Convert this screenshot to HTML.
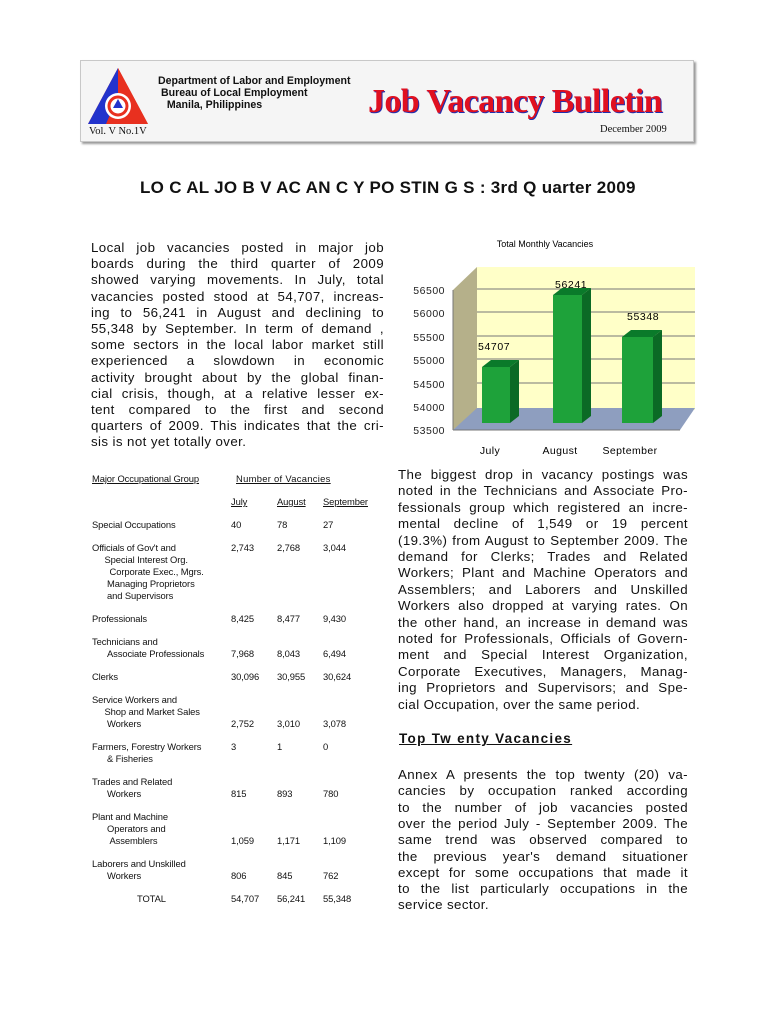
<!DOCTYPE html>
<html><head><meta charset="utf-8"><style>
body{margin:0;width:768px;height:1024px;background:#fff;position:relative;overflow:hidden;font-family:"Liberation Sans",sans-serif;color:#111}
.a{position:absolute;white-space:nowrap}
.L{position:absolute;font-size:13.3px;line-height:16.3px;height:16.3px;text-align:justify;text-align-last:justify;letter-spacing:0.4px;white-space:normal;overflow:hidden}
.N{text-align-last:left}
.t{position:absolute;font-size:9.4px;line-height:12px;white-space:nowrap;letter-spacing:-0.1px}
</style></head><body>
<!-- header -->
<div class="a" style="left:80px;top:60px;width:612px;height:80px;background:#f5f5f5;border:1px solid #c8c8c8;box-shadow:2px 2px 2px #999"></div>
<svg class="a" style="left:86px;top:66px" width="66" height="62">
<polygon points="32,2 2,58 62,58" fill="#e8301f"/>
<polygon points="32,2 2,58 20,58 32,30" fill="#2233cc"/>
<polygon points="32,2 32,30 44,52 62,58" fill="#e8301f"/>
<circle cx="32" cy="40" r="13" fill="#fff"/>
<circle cx="32" cy="40" r="9" fill="none" stroke="#e8301f" stroke-width="3"/>
<polygon points="32,33 27,42 37,42" fill="#2233cc"/>
</svg>
<div class="a" style="left:158px;top:75px;font-size:10.6px;font-weight:bold;line-height:12px">Department of Labor and Employment<br>&nbsp;Bureau of Local Employment<br>&nbsp;&nbsp;&nbsp;Manila, Philippines</div>
<div class="a" style="left:368px;top:83px;font-family:'Liberation Serif',serif;font-size:34px;font-weight:bold;color:#e01020;letter-spacing:-0.6px;text-shadow:1px 1px 0 #2030b0">Job Vacancy Bulletin</div>
<div class="a" style="left:89px;top:126px;font-family:'Liberation Serif',serif;font-size:10.5px">Vol. V No.1V</div>
<div class="a" style="left:600px;top:124px;font-family:'Liberation Serif',serif;font-size:10.5px">December 2009</div>
<!-- title -->
<div class="a" style="left:140px;top:178px;font-size:17px;font-weight:bold;letter-spacing:0.3px">LO C AL JO B V AC AN C Y  PO STIN G S : 3rd Q uarter 2009</div>
<!-- left paragraph -->
<div class="L" style="left:91px;top:240px;width:293px">Local job vacancies posted in major job</div>
<div class="L" style="left:91px;top:256.2px;width:293px">boards during the third quarter of 2009</div>
<div class="L" style="left:91px;top:272.4px;width:293px">showed varying movements. In July, total</div>
<div class="L" style="left:91px;top:288.6px;width:293px">vacancies posted stood at 54,707, increas-</div>
<div class="L" style="left:91px;top:304.8px;width:293px">ing to 56,241 in August and declining to</div>
<div class="L" style="left:91px;top:321px;width:293px">55,348 by September. In term of demand ,</div>
<div class="L" style="left:91px;top:337.2px;width:293px">some sectors in the local labor market still</div>
<div class="L" style="left:91px;top:353.4px;width:293px">experienced a slowdown in economic</div>
<div class="L" style="left:91px;top:369.6px;width:293px">activity brought about by the global finan-</div>
<div class="L" style="left:91px;top:385.8px;width:293px">cial crisis, though, at a relative lesser ex-</div>
<div class="L" style="left:91px;top:402px;width:293px">tent compared to the first and second</div>
<div class="L" style="left:91px;top:418.2px;width:293px">quarters of 2009. This indicates that the cri-</div>
<div class="L N" style="left:91px;top:434.4px;width:293px">sis is not yet totally over.</div>
<!-- chart -->
<svg class="a" style="left:390px;top:230px" width="310" height="235" font-family="Liberation Sans" font-size="10">
<text x="155" y="17" text-anchor="middle" font-size="9">Total Monthly Vacancies</text>
<polygon points="87,37 305,37 305,180 87,180" fill="#ffffc8"/>
<polygon points="63,60 87,37 87,180 63,200" fill="#b5b08a"/>
<polygon points="63,200 87,178 305,178 290,200" fill="#8e9ebf"/>
<g stroke="#777" stroke-width="1">
<line x1="87" y1="59" x2="305" y2="59"/><line x1="87" y1="82" x2="305" y2="82"/><line x1="87" y1="106" x2="305" y2="106"/><line x1="87" y1="129" x2="305" y2="129"/><line x1="87" y1="153" x2="305" y2="153"/>
<line x1="63" y1="60" x2="63" y2="200"/><line x1="63" y1="200" x2="290" y2="200"/>
</g>
<g fill="#222" text-anchor="end" font-size="10.5" letter-spacing="0.5">
<text x="55" y="64">56500</text><text x="55" y="87">56000</text><text x="55" y="111">55500</text><text x="55" y="134">55000</text><text x="55" y="158">54500</text><text x="55" y="181">54000</text><text x="55" y="204">53500</text></g>
<g>
<polygon points="92,137 120,137 129,130 101,130" fill="#0a7a2a"/><rect x="92" y="137" width="28" height="56" fill="#1ea23a"/><polygon points="120,137 129,130 129,186 120,193" fill="#0b6a25"/>
<polygon points="163,65 192,65 201,58 172,58" fill="#0a7a2a"/><rect x="163" y="65" width="29" height="128" fill="#1ea23a"/><polygon points="192,65 201,58 201,186 192,193" fill="#0b6a25"/>
<polygon points="232,107 263,107 272,100 241,100" fill="#0a7a2a"/><rect x="232" y="107" width="31" height="86" fill="#1ea23a"/><polygon points="263,107 272,100 272,186 263,193" fill="#0b6a25"/>
</g>
<g font-size="10.5" letter-spacing="0.6"><text x="88" y="120">54707</text><text x="165" y="58">56241</text><text x="237" y="90">55348</text></g>
<g font-size="10.5" text-anchor="middle" letter-spacing="0.4"><text x="100" y="224">July</text><text x="170" y="224">August</text><text x="240" y="224">September</text></g>
</svg>
<!-- table -->
<div class="t" style="left:92px;top:473px;text-decoration:underline">Major Occupational Group</div>
<div class="t" style="left:236px;top:473px;text-decoration:underline;letter-spacing:0.3px">Number of Vacancies</div>
<div class="t" style="left:231px;top:496px;text-decoration:underline">July</div>
<div class="t" style="left:277px;top:496px;text-decoration:underline">August</div>
<div class="t" style="left:323px;top:496px;text-decoration:underline">September</div>
<div class="t" style="left:92px;top:519px">Special Occupations</div>
<div class="t" style="left:231px;top:519px">40</div><div class="t" style="left:277px;top:519px">78</div><div class="t" style="left:323px;top:519px">27</div>
<div class="t" style="left:92px;top:542px">Officials of Gov't and<br>&nbsp;&nbsp;&nbsp;&nbsp;&nbsp;Special Interest Org.<br>&nbsp;&nbsp;&nbsp;&nbsp;&nbsp;&nbsp;&nbsp;Corporate Exec., Mgrs.<br>&nbsp;&nbsp;&nbsp;&nbsp;&nbsp;&nbsp;Managing Proprietors<br>&nbsp;&nbsp;&nbsp;&nbsp;&nbsp;&nbsp;and Supervisors</div>
<div class="t" style="left:231px;top:542px">2,743</div><div class="t" style="left:277px;top:542px">2,768</div><div class="t" style="left:323px;top:542px">3,044</div>
<div class="t" style="left:92px;top:613px">Professionals</div>
<div class="t" style="left:231px;top:613px">8,425</div><div class="t" style="left:277px;top:613px">8,477</div><div class="t" style="left:323px;top:613px">9,430</div>
<div class="t" style="left:92px;top:636px">Technicians and<br>&nbsp;&nbsp;&nbsp;&nbsp;&nbsp;&nbsp;Associate Professionals</div>
<div class="t" style="left:231px;top:648px">7,968</div><div class="t" style="left:277px;top:648px">8,043</div><div class="t" style="left:323px;top:648px">6,494</div>
<div class="t" style="left:92px;top:671px">Clerks</div>
<div class="t" style="left:231px;top:671px">30,096</div><div class="t" style="left:277px;top:671px">30,955</div><div class="t" style="left:323px;top:671px">30,624</div>
<div class="t" style="left:92px;top:694px">Service Workers and<br>&nbsp;&nbsp;&nbsp;&nbsp;&nbsp;Shop and Market Sales<br>&nbsp;&nbsp;&nbsp;&nbsp;&nbsp;&nbsp;Workers</div>
<div class="t" style="left:231px;top:718px">2,752</div><div class="t" style="left:277px;top:718px">3,010</div><div class="t" style="left:323px;top:718px">3,078</div>
<div class="t" style="left:92px;top:741px">Farmers, Forestry Workers<br>&nbsp;&nbsp;&nbsp;&nbsp;&nbsp;&nbsp;&amp; Fisheries</div>
<div class="t" style="left:231px;top:741px">3</div><div class="t" style="left:277px;top:741px">1</div><div class="t" style="left:323px;top:741px">0</div>
<div class="t" style="left:92px;top:776px">Trades and Related<br>&nbsp;&nbsp;&nbsp;&nbsp;&nbsp;&nbsp;Workers</div>
<div class="t" style="left:231px;top:788px">815</div><div class="t" style="left:277px;top:788px">893</div><div class="t" style="left:323px;top:788px">780</div>
<div class="t" style="left:92px;top:811px">Plant and Machine<br>&nbsp;&nbsp;&nbsp;&nbsp;&nbsp;&nbsp;Operators and<br>&nbsp;&nbsp;&nbsp;&nbsp;&nbsp;&nbsp;&nbsp;Assemblers</div>
<div class="t" style="left:231px;top:835px">1,059</div><div class="t" style="left:277px;top:835px">1,171</div><div class="t" style="left:323px;top:835px">1,109</div>
<div class="t" style="left:92px;top:858px">Laborers and Unskilled<br>&nbsp;&nbsp;&nbsp;&nbsp;&nbsp;&nbsp;Workers</div>
<div class="t" style="left:231px;top:870px">806</div><div class="t" style="left:277px;top:870px">845</div><div class="t" style="left:323px;top:870px">762</div>
<div class="t" style="left:137px;top:893px">TOTAL</div>
<div class="t" style="left:231px;top:893px">54,707</div><div class="t" style="left:277px;top:893px">56,241</div><div class="t" style="left:323px;top:893px">55,348</div>
<!-- right column -->
<div class="L" style="left:398px;top:467px;width:290px">The biggest drop in vacancy postings was</div>
<div class="L" style="left:398px;top:483.4px;width:290px">noted in the Technicians and Associate Pro-</div>
<div class="L" style="left:398px;top:499.8px;width:290px">fessionals group which registered an incre-</div>
<div class="L" style="left:398px;top:516.2px;width:290px">mental decline of 1,549 or 19 percent</div>
<div class="L" style="left:398px;top:532.6px;width:290px">(19.3%) from August to September 2009. The</div>
<div class="L" style="left:398px;top:549px;width:290px">demand for Clerks; Trades and Related</div>
<div class="L" style="left:398px;top:565.4px;width:290px">Workers; Plant and Machine Operators and</div>
<div class="L" style="left:398px;top:581.8px;width:290px">Assemblers; and Laborers and Unskilled</div>
<div class="L" style="left:398px;top:598.2px;width:290px">Workers also dropped at varying rates. On</div>
<div class="L" style="left:398px;top:614.6px;width:290px">the other hand, an increase in demand was</div>
<div class="L" style="left:398px;top:631px;width:290px">noted for Professionals, Officials of Govern-</div>
<div class="L" style="left:398px;top:647.4px;width:290px">ment and Special Interest Organization,</div>
<div class="L" style="left:398px;top:663.8px;width:290px">Corporate Executives, Managers, Manag-</div>
<div class="L" style="left:398px;top:680.2px;width:290px">ing Proprietors and Supervisors; and Spe-</div>
<div class="L N" style="left:398px;top:696.6px;width:290px">cial Occupation, over the same period.</div>
<div class="a" style="left:399px;top:731px;font-size:13.5px;font-weight:bold;text-decoration:underline;letter-spacing:1.3px">Top Tw enty Vacancies</div>
<div class="L" style="left:398px;top:767px;width:290px">Annex A presents the top twenty (20) va-</div>
<div class="L" style="left:398px;top:783.3px;width:290px">cancies by occupation ranked according</div>
<div class="L" style="left:398px;top:799.6px;width:290px">to the number of job vacancies posted</div>
<div class="L" style="left:398px;top:815.9px;width:290px">over the period July - September 2009. The</div>
<div class="L" style="left:398px;top:832.2px;width:290px">same trend was observed compared to</div>
<div class="L" style="left:398px;top:848.5px;width:290px">the previous year's demand situationer</div>
<div class="L" style="left:398px;top:864.8px;width:290px">except for some occupations that made it</div>
<div class="L" style="left:398px;top:881.1px;width:290px">to the list particularly occupations in the</div>
<div class="L N" style="left:398px;top:897.4px;width:290px">service sector.</div>
</body></html>
